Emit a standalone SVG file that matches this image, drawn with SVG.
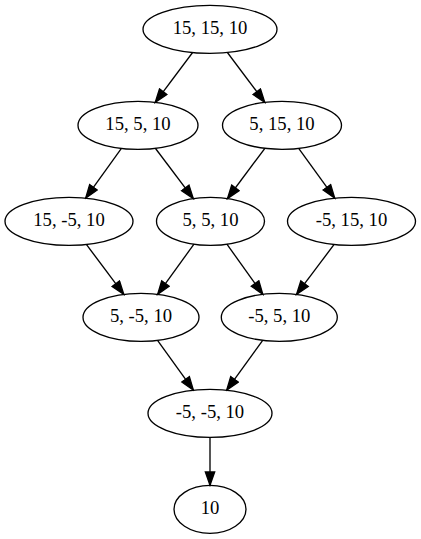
<svg xmlns="http://www.w3.org/2000/svg" width="421" height="539" viewBox="0 0 421 539">
<style>
.n ellipse{fill:none;stroke:#000;stroke-width:1.33}
.n text{font-family:"Liberation Serif","Times New Roman",serif;font-size:18.67px;text-anchor:middle;fill:#000}
.e line{stroke:#000;stroke-width:1.33;marker-end:url(#arr)}
</style>
<defs>
<marker id="arr" markerUnits="userSpaceOnUse" markerWidth="16" markerHeight="12" viewBox="-1 -1 16 12" refX="13.33" refY="4.67" orient="auto">
<path d="M0,0 L13.33,4.67 L0,9.33 Z" fill="#000" stroke="#000" stroke-width="1.33"/>
</marker>
</defs>
<rect width="421" height="539" fill="#fff"/>
<g id="edges" class="e">
<line x1="192.62" y1="52.48" x2="155.24" y2="102.31"/>
<line x1="227.38" y1="52.48" x2="264.77" y2="102.33"/>
<line x1="121.42" y1="148.37" x2="85.66" y2="198.13"/>
<line x1="155.35" y1="148.27" x2="193.32" y2="198.55"/>
<line x1="264.88" y1="148.28" x2="227.47" y2="198.52"/>
<line x1="298.68" y1="148.34" x2="334.73" y2="198.14"/>
<line x1="86.33" y1="244.4" x2="123.81" y2="294.38"/>
<line x1="193.96" y1="244.15" x2="157.64" y2="294.31"/>
<line x1="226.89" y1="244.17" x2="262.81" y2="294.29"/>
<line x1="334.13" y1="244.4" x2="296.53" y2="294.38"/>
<line x1="157.53" y1="340.3" x2="193.38" y2="390.18"/>
<line x1="262.7" y1="340.3" x2="226.69" y2="390.19"/>
<line x1="210" y1="437.3" x2="210" y2="485.3"/>
</g>
<g id="n1" class="n"><ellipse cx="210" cy="29.3" rx="67" ry="24"/><text x="210" y="34.3">15, 15, 10</text></g>
<g id="n2" class="n"><ellipse cx="138" cy="125.3" rx="60" ry="24"/><text x="138" y="130.3">15, 5, 10</text></g>
<g id="n3" class="n"><ellipse cx="282" cy="125.3" rx="59.5" ry="24"/><text x="282" y="130.3">5, 15, 10</text></g>
<g id="n4" class="n"><ellipse cx="69" cy="221.3" rx="64" ry="24"/><text x="69" y="226.3">15, -5, 10</text></g>
<g id="n5" class="n"><ellipse cx="210.5" cy="221.3" rx="54" ry="24"/><text x="210.5" y="226.3">5, 5, 10</text></g>
<g id="n6" class="n"><ellipse cx="351.5" cy="221.3" rx="64" ry="24"/><text x="351.5" y="226.3">-5, 15, 10</text></g>
<g id="n7" class="n"><ellipse cx="141" cy="317.3" rx="58" ry="24"/><text x="141" y="322.3">5, -5, 10</text></g>
<g id="n8" class="n"><ellipse cx="279.3" cy="317.3" rx="58" ry="24"/><text x="279.3" y="322.3">-5, 5, 10</text></g>
<g id="n9" class="n"><ellipse cx="210" cy="413.3" rx="62" ry="24"/><text x="210" y="418.3">-5, -5, 10</text></g>
<g id="n10" class="n"><ellipse cx="210" cy="509.3" rx="36" ry="24"/><text x="210" y="514.3">10</text></g>
</svg>
